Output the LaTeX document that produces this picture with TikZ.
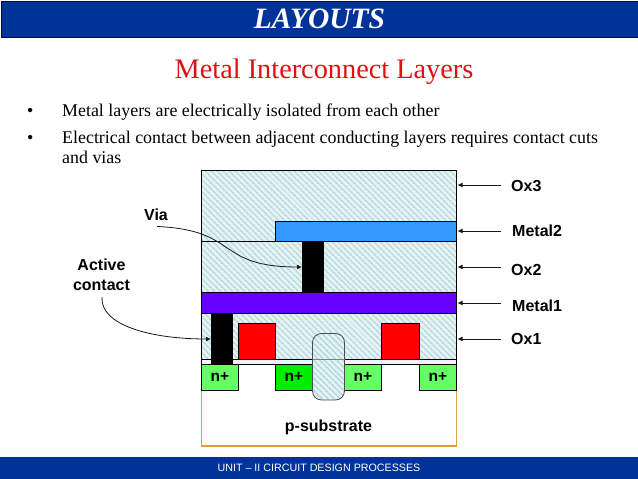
\documentclass[tikz,border=0pt]{standalone}
\usepackage{fontspec}
\setmainfont{Liberation Serif}
\setsansfont{Liberation Sans}
\usetikzlibrary{patterns.meta,arrows.meta}
\definecolor{barblue}{HTML}{003399}
\definecolor{barline}{HTML}{000A40}
\definecolor{hatchbg}{HTML}{E6F3F4}
\definecolor{hatchfg}{HTML}{B0D8DC}
\definecolor{metaltwo}{HTML}{3399FF}
\definecolor{metalone}{HTML}{6600FF}
\definecolor{lightn}{HTML}{66FF66}
\definecolor{brightn}{HTML}{00EE00}
\definecolor{subedge}{HTML}{DDA040}
\definecolor{titlered}{HTML}{E01010}
\tikzset{
  oxide/.style={draw=black,line width=0.8pt,preaction={fill=hatchbg},pattern={Lines[angle=-45,distance=4pt,line width=1.6pt]},pattern color=hatchfg},
  layer/.style={draw=black,line width=0.8pt,inner sep=0pt,outer sep=0pt},
  nplus/.style={layer,font=\sffamily\bfseries\fontsize{15.5}{17}\selectfont,text=black},
  lab/.style={font=\sffamily\bfseries\fontsize{16}{18}\selectfont,anchor=west,inner sep=0pt},
  sidelab/.style={font=\sffamily\bfseries\fontsize{16}{20}\selectfont,inner sep=0pt,align=center},
  arrowline/.style={draw=black!90,line width=0.8pt,-{Latex[length=5pt,width=5pt]}},
  bullet/.style={anchor=base west,inner sep=0pt,font=\fontsize{17.9}{20}\selectfont,text=black},
}
\begin{document}
\begin{tikzpicture}[x=1pt,y=-1pt]
\useasboundingbox (0,0) rectangle (638,479);
% header and footer
\node[draw=barline,line width=1pt,fill=barblue,minimum width=637pt,minimum height=36pt,inner sep=0pt,anchor=north west,text=white,font=\bfseries\itshape\fontsize{29.5}{32}\selectfont] (head) at (0.5,0.8) {\raisebox{-1pt}{LAYOUTS}};
\fill[barblue] (0,457) rectangle (638,479);
\node[text=white,font=\sffamily\fontsize{10.7}{13}\selectfont,inner sep=0pt] (foot) at (319,468) {UNIT – II CIRCUIT DESIGN PROCESSES};
% title and bullets
\node[text=titlered,font=\fontsize{28.3}{30}\selectfont,inner sep=0pt] (title) at (324,72) {Metal Interconnect Layers};
\node[bullet] (b1d) at (27,116) {•};
\node[bullet] (b1) at (62,116) {Metal layers are electrically isolated from each other};
\node[bullet] (b2d) at (27,143) {•};
\node[bullet] (b2) at (62,143) {Electrical contact between adjacent conducting layers requires contact cuts};
\node[bullet] (b3) at (62,163) {and vias};
% substrate
\draw[subedge,line width=1.4pt] (201.5,390) -- (201.5,446) -- (456.5,446) -- (456.5,390);
\node[sidelab] (psub) at (328.5,427) {p-substrate};
% oxides
\path[oxide] (201.5,170.5) rectangle (456.5,241.5);
\path[oxide] (201.5,241.5) rectangle (456.5,292.5);
\path[oxide] (201.5,313.5) rectangle (456.5,359.5);
\draw[layer,fill=hatchbg!70!white] (201.5,359.5) rectangle (456.5,364.5);
% metals
\node[layer,fill=metaltwo,anchor=north west,minimum width=181.5pt,minimum height=20pt] (m2) at (275,221.5) {};
\node[layer,fill=metalone,anchor=north west,minimum width=255pt,minimum height=21pt] (m1) at (201.5,292.5) {};
% via and contact
\node[fill=black,inner sep=0pt,anchor=north west,minimum width=22pt,minimum height=51pt] (via) at (302,241.5) {};
\node[fill=black,inner sep=0pt,anchor=north west,minimum width=22pt,minimum height=51pt] (ct) at (211,313.5) {};
% gates
\node[layer,fill=red,anchor=north west,minimum width=37pt,minimum height=36.5pt] (g1) at (238.5,323) {};
\node[layer,fill=red,anchor=north west,minimum width=38pt,minimum height=36.5pt] (g2) at (381.5,323) {};
% n+
\node[nplus,fill=lightn,anchor=north west,minimum width=37pt,minimum height=25.5pt] (n1) at (201.5,364.5) {n+};
\node[nplus,fill=brightn,anchor=north west,minimum width=37pt,minimum height=25.5pt] (n2) at (275.5,364.5) {n+};
\node[nplus,fill=lightn,anchor=north west,minimum width=37pt,minimum height=25.5pt] (n3) at (344.5,364.5) {n+};
\node[nplus,fill=lightn,anchor=north west,minimum width=37pt,minimum height=25.5pt] (n4) at (419.5,364.5) {n+};
% plug
\path[draw=black!70,line width=0.8pt,rounded corners=9pt,preaction={fill=hatchbg},pattern={Lines[angle=-45,distance=4pt,line width=1.6pt]},pattern color=hatchfg] (312.5,333.5) rectangle (344.5,400);
\draw[black!50,line width=0.6pt] (312.5,359.5) -- (344.5,359.5);
% labels
\node[lab] (ox3) at (511,186) {Ox3};
\node[lab] (m2l) at (512,231) {Metal2};
\node[lab] (ox2) at (511,270) {Ox2};
\node[lab] (m1l) at (512,306) {Metal1};
\node[lab] (ox1) at (511,339) {Ox1};
\coordinate (s3) at (501,185);
\coordinate (s2) at (501,231);
\coordinate (so2) at (501,267);
\coordinate (s1) at (501,303);
\coordinate (so1) at (501,339);
\coordinate (a3) at (457.5,185);
\coordinate (a2) at (457.5,231);
\coordinate (ao2) at (457.5,267);
\coordinate (a1) at (457.5,303);
\coordinate (ao1) at (457.5,339);
\draw[arrowline] (s3) -- (a3);
\draw[arrowline] (s2) -- (a2);
\draw[arrowline] (so2) -- (ao2);
\draw[arrowline] (s1) -- (a1);
\draw[arrowline] (so1) -- (ao1);
\node[sidelab] (vial) at (156,215) {Via};
\node[sidelab] (acl) at (101.5,275) {Active\\contact};
\coordinate (viastart) at (157,226.5);
\coordinate (viaend) at (302,267);
\coordinate (ctstart) at (102,297);
\coordinate (ctend) at (211,339);
\draw[arrowline] (viastart) .. controls (240,230) and (215,267) .. (viaend);
\draw[arrowline] (ctstart) .. controls (100,325) and (150,339) .. (ctend);
\end{tikzpicture}
\end{document}
